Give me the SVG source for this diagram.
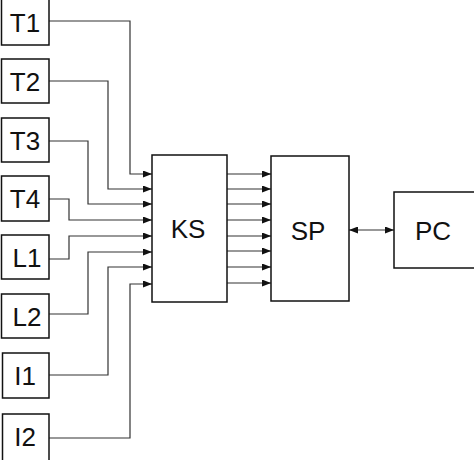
<svg xmlns="http://www.w3.org/2000/svg" width="474" height="460" viewBox="0 0 474 460">
<defs>
<marker id="ah" markerWidth="9" markerHeight="7" refX="9" refY="3.5" orient="auto" markerUnits="userSpaceOnUse">
<path d="M0,0 L9,3.5 L0,7 Z" fill="#111"/>
</marker>
<marker id="ahs" markerWidth="9" markerHeight="7" refX="0" refY="3.5" orient="auto" markerUnits="userSpaceOnUse">
<path d="M9,0 L0,3.5 L9,7 Z" fill="#111"/>
</marker>
</defs>
<style>
.box{fill:#fff;stroke:#111;stroke-width:1.5}
.lbl{font-family:"Liberation Sans",Arial,sans-serif;font-size:26px;fill:#111;text-anchor:middle}
.w{fill:none;stroke:#333;stroke-width:1.2;marker-end:url(#ah)}
</style>
<rect width="474" height="460" fill="#fff"/>
<g id="connectors">
<path class="w" d="M49,21 H130 V174 H152"/>
<path class="w" d="M49,81 H108 V189 H152"/>
<path class="w" d="M49,141 H88 V204 H152"/>
<path class="w" d="M49,199 H69 V220 H152"/>
<path class="w" d="M49,259 H69 V236 H152"/>
<path class="w" d="M49,314 H88 V252 H152"/>
<path class="w" d="M49,375 H108 V267 H152"/>
<path class="w" d="M49,438 H130 V284 H152"/>
<path class="w" d="M227,174 H271"/>
<path class="w" d="M227,189 H271"/>
<path class="w" d="M227,204 H271"/>
<path class="w" d="M227,220 H271"/>
<path class="w" d="M227,236 H271"/>
<path class="w" d="M227,251 H271"/>
<path class="w" d="M227,267 H271"/>
<path class="w" d="M227,283 H271"/>
<path class="w" d="M349,230 H394" marker-start="url(#ahs)"/>
</g>
<g id="T1"><rect class="box" x="1.5" y="-2" width="47.5" height="47"/><text class="lbl" x="25" y="31.5">T1</text></g>
<g id="T2"><rect class="box" x="1.5" y="59" width="47.5" height="44"/><text class="lbl" x="25" y="90.5">T2</text></g>
<g id="T3"><rect class="box" x="1.5" y="118" width="47.5" height="44"/><text class="lbl" x="25" y="149.5">T3</text></g>
<g id="T4"><rect class="box" x="1.5" y="176" width="47.5" height="45"/><text class="lbl" x="25" y="208">T4</text></g>
<g id="L1"><rect class="box" x="1.5" y="235" width="47.5" height="44"/><text class="lbl" x="27" y="266.5">L1</text></g>
<g id="L2"><rect class="box" x="1.5" y="294" width="47.5" height="44"/><text class="lbl" x="27" y="325.5">L2</text></g>
<g id="I1"><rect class="box" x="2.5" y="353" width="46.5" height="45"/><text class="lbl" x="25" y="385">I1</text></g>
<g id="I2"><rect class="box" x="2.5" y="414" width="46.5" height="50"/><text class="lbl" x="25" y="446">I2</text></g>
<g id="KS"><rect class="box" x="152" y="155" width="75" height="147"/><text class="lbl" x="188" y="237.5">KS</text></g>
<g id="SP"><rect class="box" x="271" y="156" width="78" height="145"/><text class="lbl" x="308" y="239.5">SP</text></g>
<g id="PC"><rect class="box" x="394" y="192" width="84" height="76"/><text class="lbl" x="433" y="239.5">PC</text></g>
</svg>
